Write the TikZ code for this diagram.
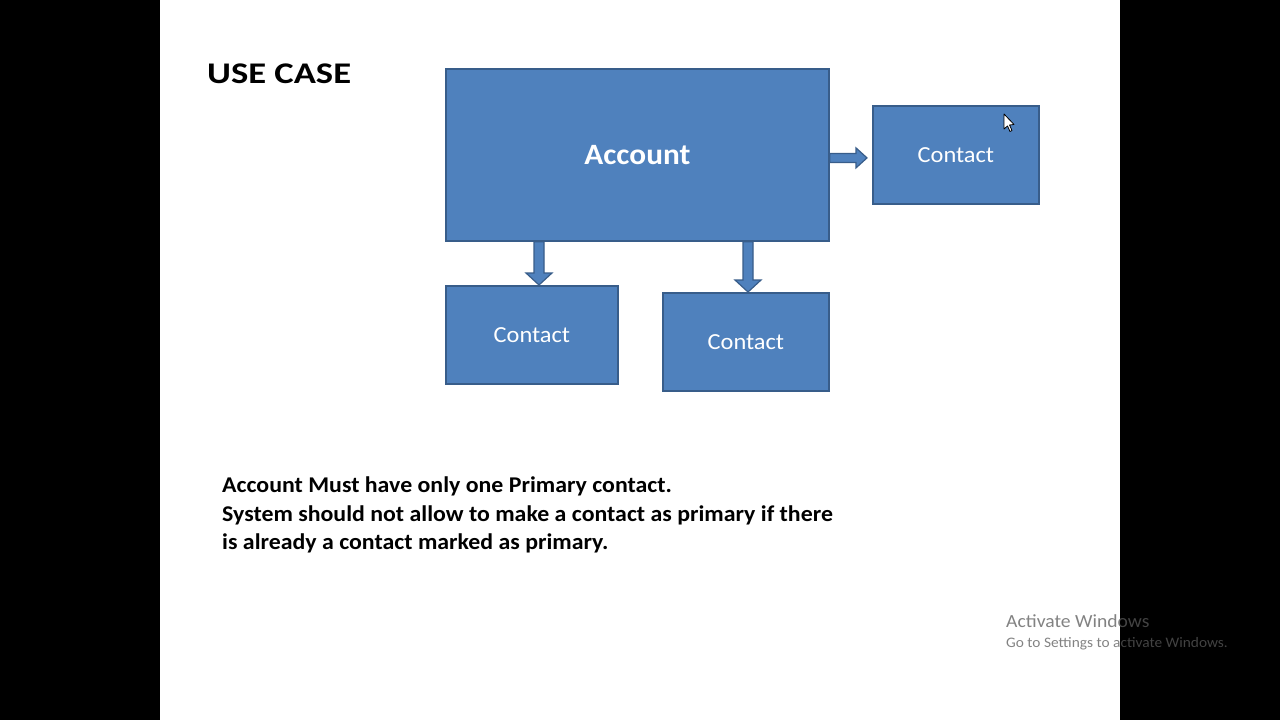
\documentclass[tikz,border=0pt]{standalone}
\usepackage{fontspec}
\setmainfont{Carlito}[FakeStretch=1.06]
\usetikzlibrary{calc}
\definecolor{boxfill}{HTML}{4F81BD}
\definecolor{boxline}{HTML}{385D8A}
\tikzset{
  ent/.style={draw=boxline, fill=boxfill, line width=1.8pt, text=white, inner sep=0pt, anchor=north west},
  blockdown/.style={draw=boxline, fill=boxfill, line width=1.2pt, line join=miter,
    to path={let \p1=(\tikztostart), \p2=(\tikztotarget) in
      (\x1-5pt,\y1) -- (\x1-5pt,\y2+12pt) -- (\x1-13pt,\y2+12pt) -- (\x1,\y2)
      -- (\x1+13pt,\y2+12pt) -- (\x1+5pt,\y2+12pt) -- (\x1+5pt,\y1) -- cycle}},
  blockright/.style={draw=boxline, fill=boxfill, line width=1.2pt, line join=miter,
    to path={let \p1=(\tikztostart), \p2=(\tikztotarget) in
      (\x1,\y1+4.5pt) -- (\x2-11pt,\y1+4.5pt) -- (\x2-11pt,\y1+10pt) -- (\x2,\y1)
      -- (\x2-11pt,\y1-10pt) -- (\x2-11pt,\y1-4.5pt) -- (\x1,\y1-4.5pt) -- cycle}},
  wm/.style={text=gray!70!black, opacity=0.75, anchor=base west, inner sep=0pt},
  contactfont/.style={font=\fontsize{23}{28}\selectfont}
}
\begin{document}
\begin{tikzpicture}[x=1pt,y=-1pt]
\useasboundingbox (0,0) rectangle (1280,720);
\fill[black] (0,0) rectangle (1280,720);
\fill[white] (160,0) rectangle (1120,720);

\node[anchor=base west, inner sep=0pt, font=\bfseries\fontsize{30}{36}\selectfont] (title) at (207,83) {\scalebox{1.15}[1]{USE CASE}};

\node[ent, minimum width=383pt, minimum height=172pt, font=\bfseries\fontsize{29.5}{36}\selectfont] (acc) at (445,68) {\raisebox{-1pt}{Account}};
\node[ent, minimum width=166pt, minimum height=98pt, contactfont] (c3) at (872,105) {\raisebox{-1pt}{Contact}};
\node[ent, minimum width=172pt, minimum height=98pt, contactfont] (c1) at (445,285) {\raisebox{-1pt}{Contact}};
\node[ent, minimum width=166pt, minimum height=98pt, contactfont] (c2) at (662,292) {\raisebox{-1.5pt}{Contact}};

\coordinate (ax1) at (539,0);
\coordinate (ax2) at (748,0);
\draw[blockdown] (ax1 |- acc.south) to (ax1 |- c1.north);
\draw[blockdown] (ax2 |- acc.south) to (ax2 |- c2.north);
\draw[blockright] ([yshift=-3pt]acc.east) to ([xshift=-5pt,yshift=-3pt]c3.west);

\node[anchor=north west, inner sep=0pt, align=left, font=\bfseries\fontsize{22.5}{28.5}\selectfont] (note) at (222,477)
  {Account Must have only one Primary contact.\\
   System should not allow to make a contact as primary if there\\
   is already a contact marked as primary.};

\node[wm, font=\fontsize{18.5}{22}\selectfont] (wm1) at (1006,627) {Activate Windows};
\node[wm, font=\fontsize{14.5}{17}\selectfont] (wm2) at (1006,647) {Go to Settings to activate Windows.};

\draw[fill=white, draw=black, line width=0.8pt, line join=round]
  (1004,114) -- (1004,129) -- (1007.5,126) -- (1010,131.5) -- (1012,130.5) -- (1009.5,125) -- (1014,124.5) -- cycle;
\end{tikzpicture}
\end{document}
